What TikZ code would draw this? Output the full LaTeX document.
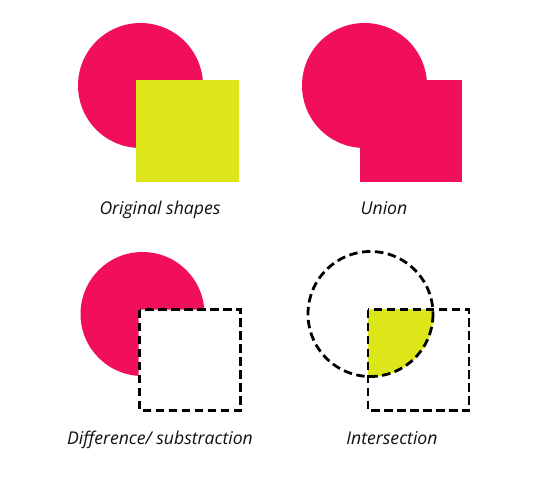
\documentclass[tikz,border=0pt]{standalone}
\usepackage{fontspec}
\setmainfont{Open Sans}
\definecolor{pinkc}{HTML}{F10E5D}
\definecolor{limec}{HTML}{DCE619}
\definecolor{txtc}{HTML}{111111}
\tikzset{
  lbl/.style={font=\fontsize{17.6}{20}\selectfont\itshape, text=txtc, inner sep=0pt, anchor=base},
  dsh/.style={draw=black, line width=2.8pt, dash pattern=on 8.5pt off 4.5pt},
}
\begin{document}
\begin{tikzpicture}[x=1pt,y=-1pt]
\useasboundingbox[fill=white] (0,0) rectangle (560,485);
% Original shapes
\fill[pinkc] (140.5,85.5) circle (62.5);
\fill[limec] (136,80) rectangle (239,182);
\node[lbl] (l1) at (160,214) {Original shapes};
% Union
\fill[pinkc] (364.5,85.5) circle (62.5);
\fill[pinkc] (360,80) rectangle (462,182);
\node[lbl] (l2) at (384,214) {Union};
% Difference
\begin{scope}
  \clip (0,0) rectangle (138.5,485) (138.5,0) rectangle (560,309.5);
  \fill[pinkc] (142.5,314) circle (62);
\end{scope}
\draw[dsh] (139.5,309.5) rectangle (240.5,410.5);
\node[lbl] (l3) at (160,444) {Difference/ substraction};
% Intersection
\begin{scope}
  \clip (368,309.5) rectangle (469,410.5);
  \fill[limec] (370.5,314) circle (63);
\end{scope}
\draw[dsh] (370.5,314) circle (62.5);
\draw[dsh] (368,309.5) rectangle (469,410.5);
\node[lbl] (l4) at (392,444) {Intersection};
\end{tikzpicture}
\end{document}
